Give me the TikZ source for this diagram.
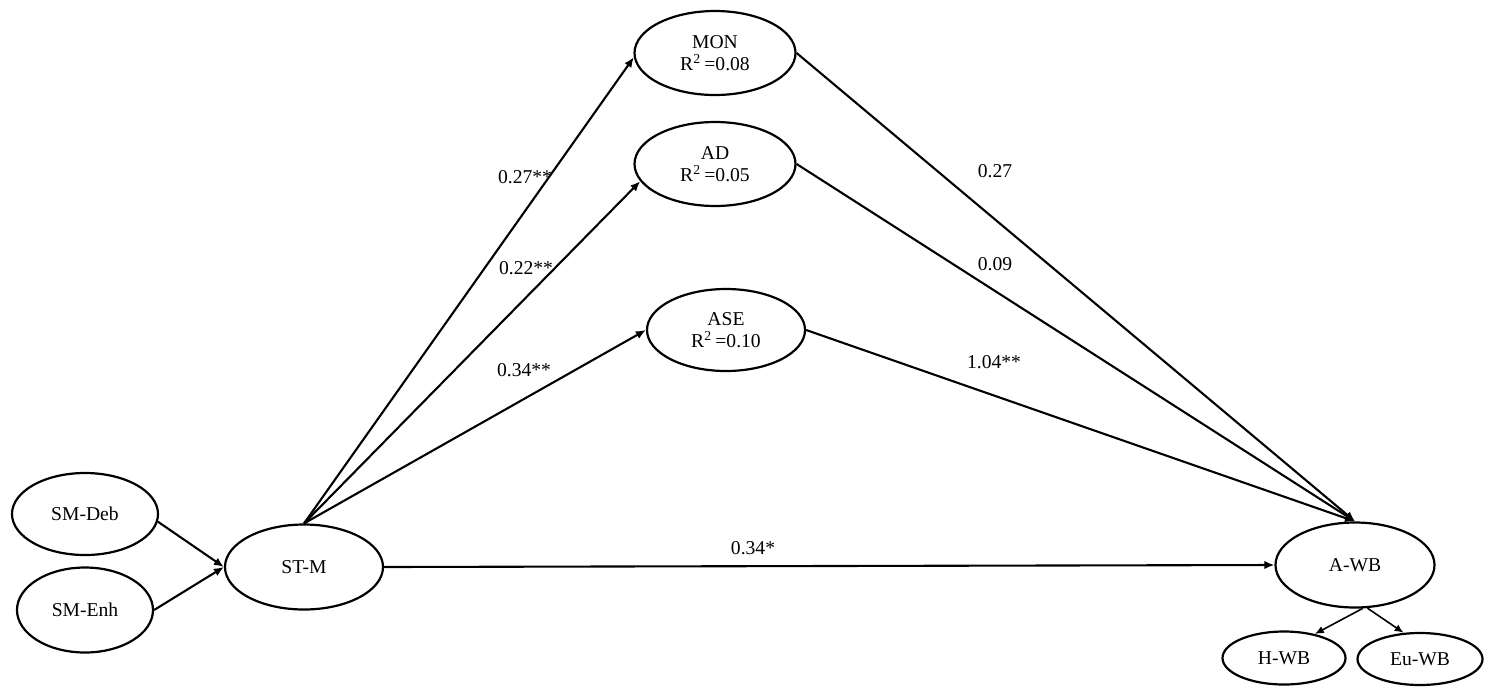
\documentclass[tikz,border=0pt]{standalone}
\usepackage{fontspec}
\setmainfont{Liberation Serif}
\usetikzlibrary{shapes.geometric,arrows.meta}
\begin{document}
\begin{tikzpicture}[x=0.5pt,y=-0.5pt,
  el/.style={ellipse,draw,line width=1.1pt,inner sep=0pt,align=center,font=\fontsize{9.8pt}{11pt}\selectfont},
  lab/.style={font=\fontsize{9.8pt}{11pt}\selectfont,inner sep=0pt},
  arr/.style={line width=1.05pt,-{Latex[length=5pt,width=4.2pt]}},
  sarr/.style={line width=0.8pt,-{Latex[length=4.5pt,width=3.8pt]}}]
\useasboundingbox (0,0) rectangle (1492,697);
\node[el,minimum width=80.5pt,minimum height=42pt] (MON) at (715,53) {MON\\R\textsuperscript{2}\,=0.08};
\node[el,minimum width=80.5pt,minimum height=42pt] (AD) at (715,164) {AD\\R\textsuperscript{2}\,=0.05};
\node[el,minimum width=79pt,minimum height=41pt] (ASE) at (726,330) {ASE\\R\textsuperscript{2}\,=0.10};
\node[el,minimum width=73pt,minimum height=41pt] (SMD) at (85,514) {SM-Deb};
\node[el,minimum width=68pt,minimum height=42.5pt] (SME) at (85,610) {SM-Enh};
\node[el,minimum width=79pt,minimum height=42.5pt] (STM) at (304,567) {ST-M};
\node[el,minimum width=79.5pt,minimum height=42.5pt] (AWB) at (1355,565) {A-WB};
\node[el,minimum width=61.5pt,minimum height=26.5pt] (HWB) at (1284,658) {H-WB};
\node[el,minimum width=62.5pt,minimum height=26pt] (EWB) at (1420,659) {Eu-WB};

\draw[arr] (SMD.-6) -- (STM.west);
\draw[arr] (SME.east) -- (STM.west);
\draw[arr] (STM.north) -- (MON.183);
\draw[arr] (STM.north) -- (AD.193);
\draw[arr] (STM.north) -- (ASE.west);
\draw[arr] (STM.east) -- (AWB.west);
\draw[arr] (MON.east) -- (AWB.north);
\draw[arr] (AD.east) -- (AWB.north);
\draw[arr] (ASE.east) -- (AWB.north);
\draw[sarr] (AWB.-80) -- (HWB.38);
\draw[sarr] (AWB.-74) -- (EWB.122);

\node[lab] (l1) at (525,177) {0.27**};
\node[lab] (l2) at (526,268) {0.22**};
\node[lab] (l3) at (524,370) {0.34**};
\node[lab] (l4) at (995,171) {0.27};
\node[lab] (l5) at (995,264) {0.09};
\node[lab] (l6) at (994,362) {1.04**};
\node[lab] (l7) at (753,548) {0.34*};
\end{tikzpicture}
\end{document}
